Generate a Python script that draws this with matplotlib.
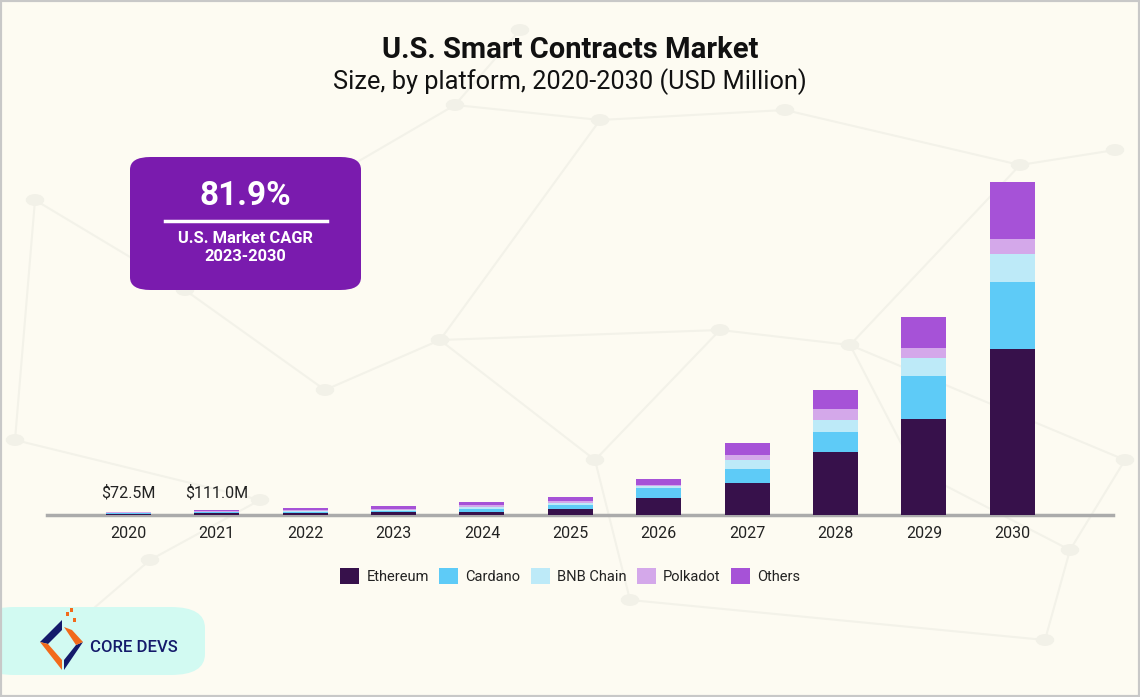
"""U.S. smart contracts market size by platform, stacked bar chart."""

import matplotlib

matplotlib.use("Agg")
import matplotlib.pyplot as plt
from matplotlib.patches import FancyBboxPatch, Polygon, Rectangle
from matplotlib.lines import Line2D
import numpy as np

plt.rcParams["font.family"] = ["Roboto", "DejaVu Sans"]

# data (USD million)
years = ["2020", "2021", "2022", "2023", "2024", "2025", "2026", "2027", "2028", "2029", "2030"]
platforms = ["Ethereum", "Cardano", "BNB Chain", "Polkadot", "Others"]
ethereum = [25, 40, 55, 66, 66, 132, 374, 704, 1386, 2112, 3652]
cardano = [15, 22, 22, 33, 66, 88, 220, 308, 440, 946, 1474]
bnb_chain = [10, 15, 22, 22, 44, 44, 44, 198, 264, 396, 616]
polkadot = [7.5, 9, 11, 11, 44, 44, 22, 110, 242, 220, 330]
others = [15, 25, 44, 66, 66, 88, 132, 264, 418, 682, 1254]
value_labels = {0: "$72.5M", 1: "$111.0M"}

colors = ["#37114B", "#5ECBF7", "#BDEAF8", "#D4A8EA", "#A652D7"]
BG = "#FDFBF2"

fig = plt.figure(figsize=(11.4, 6.97), dpi=100)
fig.patch.set_facecolor(BG)


def fp(px, py):
    return (px / 1140, 1 - py / 697)


# faint network pattern in the background
nodes = [(35, 200), (185, 290), (335, 175), (455, 105), (520, 30), (600, 120),
         (785, 110), (850, 345), (1020, 165), (1115, 150), (1125, 460),
         (325, 390), (440, 340), (15, 440), (45, 650), (595, 460), (630, 600),
         (1070, 550), (1045, 640), (260, 500), (150, 560), (915, 470), (720, 330)]
edges = [(0, 1), (1, 2), (2, 3), (3, 4), (3, 5), (5, 6), (6, 8), (8, 9), (7, 8),
         (7, 10), (1, 11), (11, 12), (12, 5), (0, 13), (13, 19), (19, 20), (20, 14),
         (12, 15), (15, 16), (16, 18), (17, 18), (10, 17), (7, 21), (21, 17), (12, 22),
         (22, 7), (15, 22)]
for a, b in edges:
    p1, p2 = fp(*nodes[a]), fp(*nodes[b])
    fig.add_artist(Line2D([p1[0], p2[0]], [p1[1], p2[1]], color="#F3F2E9", lw=1.5, zorder=0))
for node in nodes:
    fig.add_artist(plt.Circle(fp(*node), 0.0075, color="#F2F1E8",
                              transform=fig.transFigure, zorder=0))

fig.add_artist(Rectangle((0, 0), 1, 1, transform=fig.transFigure, fill=False,
                         edgecolor="#C8C8C8", lw=3, zorder=10))

ax = fig.add_axes([47 / 1140, 1 - 515 / 697, 1066 / 1140, 345 / 697])
ax.set_facecolor("none")
x = np.arange(len(years))
bottom = np.zeros(len(years))
for name, vals, c in zip(platforms, [ethereum, cardano, bnb_chain, polkadot, others], colors):
    ax.bar(x, vals, width=0.51, bottom=bottom, color=c, label=name, zorder=5)
    bottom += np.array(vals)

for i, txt in value_labels.items():
    ax.text(x[i], 310, txt, ha="center", va="bottom", fontsize=11.5, color="#222222")

ax.set_xlim(-0.92, 11.14)
ax.set_ylim(0, 7590)
ax.set_xticks(x)
ax.set_xticklabels(years, fontsize=11.5, color="#222222")
ax.tick_params(axis="x", length=0, pad=8)
ax.set_yticks([])
for s in ["top", "right", "left"]:
    ax.spines[s].set_visible(False)
ax.spines["bottom"].set_color("#ABABAB")
ax.spines["bottom"].set_linewidth(2.5)
ax.spines["bottom"].set_zorder(4)

leg = fig.legend(loc="center", bbox_to_anchor=(570 / 1140, 1 - 576 / 697), ncol=5,
                 frameon=False, fontsize=10.5, handlelength=1.3, handleheight=1.3,
                 handletextpad=0.5, columnspacing=0.7)
for t in leg.get_texts():
    t.set_color("#222222")

fig.text(0.5, 1 - 50 / 697, "U.S. Smart Contracts Market", ha="center", va="center",
         fontsize=21, fontweight="bold", color="#111111")
fig.text(0.5, 1 - 82 / 697, "Size, by platform, 2020-2030 (USD Million)", ha="center",
         va="center", fontsize=18.3, color="#111111")

# CAGR box
box = FancyBboxPatch(fp(130, 290), 231 / 1140, 133 / 697,
                     boxstyle="round,pad=0,rounding_size=0.018", transform=fig.transFigure,
                     facecolor="#7A1BAE", edgecolor="none", zorder=5)
fig.add_artist(box)
fig.text(245 / 1140, 1 - 196 / 697, "81.9%", ha="center", va="center", fontsize=24,
         fontweight="bold", color="white", zorder=6)
fig.add_artist(Line2D([165 / 1140, 327 / 1140], [1 - 221 / 697] * 2, color="white", lw=2.5, zorder=6))
fig.text(245 / 1140, 1 - 238 / 697, "U.S. Market CAGR", ha="center", va="center",
         fontsize=11.9, fontweight="bold", color="white", zorder=6)
fig.text(245 / 1140, 1 - 257 / 697, "2023-2030", ha="center", va="center",
         fontsize=11.9, fontweight="bold", color="white", zorder=6)

# logo
logo = FancyBboxPatch(fp(-20, 675), 225 / 1140, 68 / 697,
                      boxstyle="round,pad=0,rounding_size=0.03", transform=fig.transFigure,
                      facecolor="#D2FAF2", edgecolor="none", zorder=5)
fig.add_artist(logo)

navy = "#141A6B"
orange = "#F26A1B"
shapes = [
    ([(40, 642), (62, 620), (62, 630), (48, 644)], navy),
    ([(40, 642), (48, 644), (62, 660), (62, 670)], orange),
    ([(64, 670), (64, 660), (76, 645), (83, 642)], navy),
    ([(64, 627), (72, 630), (83, 642), (76, 645)], orange),
]
for pts, c in shapes:
    fig.add_artist(Polygon([fp(*p) for p in pts], closed=True, transform=fig.transFigure,
                           facecolor=c, edgecolor="none", zorder=6))
for px, py in [(66, 616), (70, 612), (73, 622)]:
    fig.add_artist(Rectangle(fp(px, py), 3 / 1140, 4 / 697, transform=fig.transFigure,
                             facecolor=orange, zorder=6))
lx, ly = fp(90, 648)
fig.text(lx, ly, "CORE DEVS", ha="left", va="center", fontsize=12,
         fontweight="medium", color=navy, zorder=6)

fig.savefig("out.png", dpi=100, facecolor=BG)
